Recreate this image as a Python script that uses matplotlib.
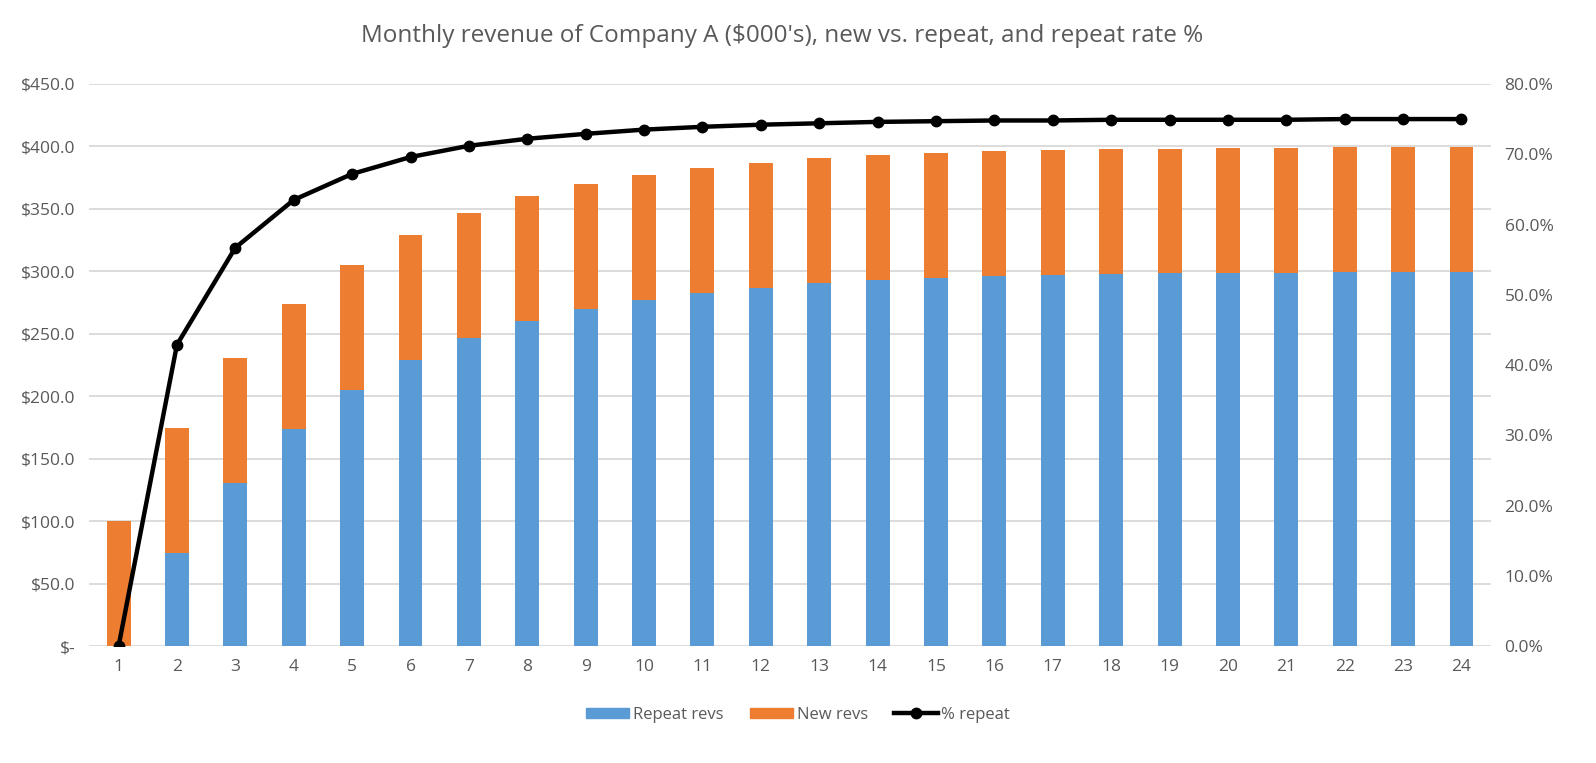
import matplotlib.pyplot as plt
from matplotlib.ticker import FuncFormatter
from matplotlib.lines import Line2D
from matplotlib.patches import Patch

months = list(range(1, 25))
repeat_revs = [0, 75, 131, 174, 205, 229, 247, 260, 270, 277, 283, 287,
               291, 293, 295, 296.5, 297, 298, 298.3, 298.6, 298.8, 299.2, 299.4, 299.6]
new_revs = [100] * 24
pct_repeat = [0.0, 42.9, 56.7, 63.5, 67.2, 69.6, 71.2, 72.2, 72.9, 73.5, 73.9, 74.2,
              74.4, 74.6, 74.7, 74.8, 74.8, 74.9, 74.9, 74.9, 74.9, 75.0, 75.0, 75.0]

BLUE = '#5b9bd5'
ORANGE = '#ed7d31'
GRAY = '#595959'
GRID = '#d9d9d9'

plt.rcParams['font.family'] = ['Open Sans', 'DejaVu Sans']

fig = plt.figure(figsize=(15.96, 7.63), dpi=100)
ax = fig.add_axes([0.056, 0.153, 0.878, 0.737])

ax.bar(months, repeat_revs, width=0.41, color=BLUE, zorder=2)
ax.bar(months, new_revs, width=0.41, bottom=repeat_revs, color=ORANGE, zorder=2)

ax.set_xlim(0.5, 24.5)
ax.set_ylim(0, 450)
ax.set_yticks(range(0, 451, 50))
ax.yaxis.set_major_formatter(FuncFormatter(lambda v, p: '$-' if v == 0 else f'${v:.1f}'))
ax.set_xticks(months)
ax.grid(axis='y', color=GRID, linewidth=1.3, zorder=0)
for s in ax.spines.values():
    s.set_visible(False)
ax.tick_params(length=0, colors=GRAY, labelsize=12.5)
ax.tick_params(axis='y', pad=10)
ax.tick_params(axis='x', pad=9)

ax2 = ax.twinx()
ax2.plot(months, pct_repeat, color='black', linewidth=3.2, marker='o', markersize=7.5, zorder=3)
ax2.set_ylim(0, 80)
ax2.set_yticks(range(0, 81, 10))
ax2.yaxis.set_major_formatter(FuncFormatter(lambda v, p: f'{v:.1f}%'))
for s in ax2.spines.values():
    s.set_visible(False)
ax2.tick_params(length=0, colors=GRAY, labelsize=12.5, pad=10)

fig.suptitle("Monthly revenue of Company A ($000's), new vs. repeat, and repeat rate %",
             x=0.49, y=0.968, fontsize=17.5, color=GRAY)

handles = [Patch(color=BLUE), Patch(color=ORANGE),
           Line2D([], [], color='black', linewidth=3.2, marker='o', markersize=7.5)]
fig.legend(handles, ['Repeat revs', 'New revs', '% repeat'], loc='center',
           bbox_to_anchor=(0.5, 0.063), ncol=3, frameon=False, fontsize=12,
           labelcolor=GRAY, handlelength=2.6, handleheight=0.6, columnspacing=1.6,
           handletextpad=0.2)

fig.savefig('out.png', dpi=100)
